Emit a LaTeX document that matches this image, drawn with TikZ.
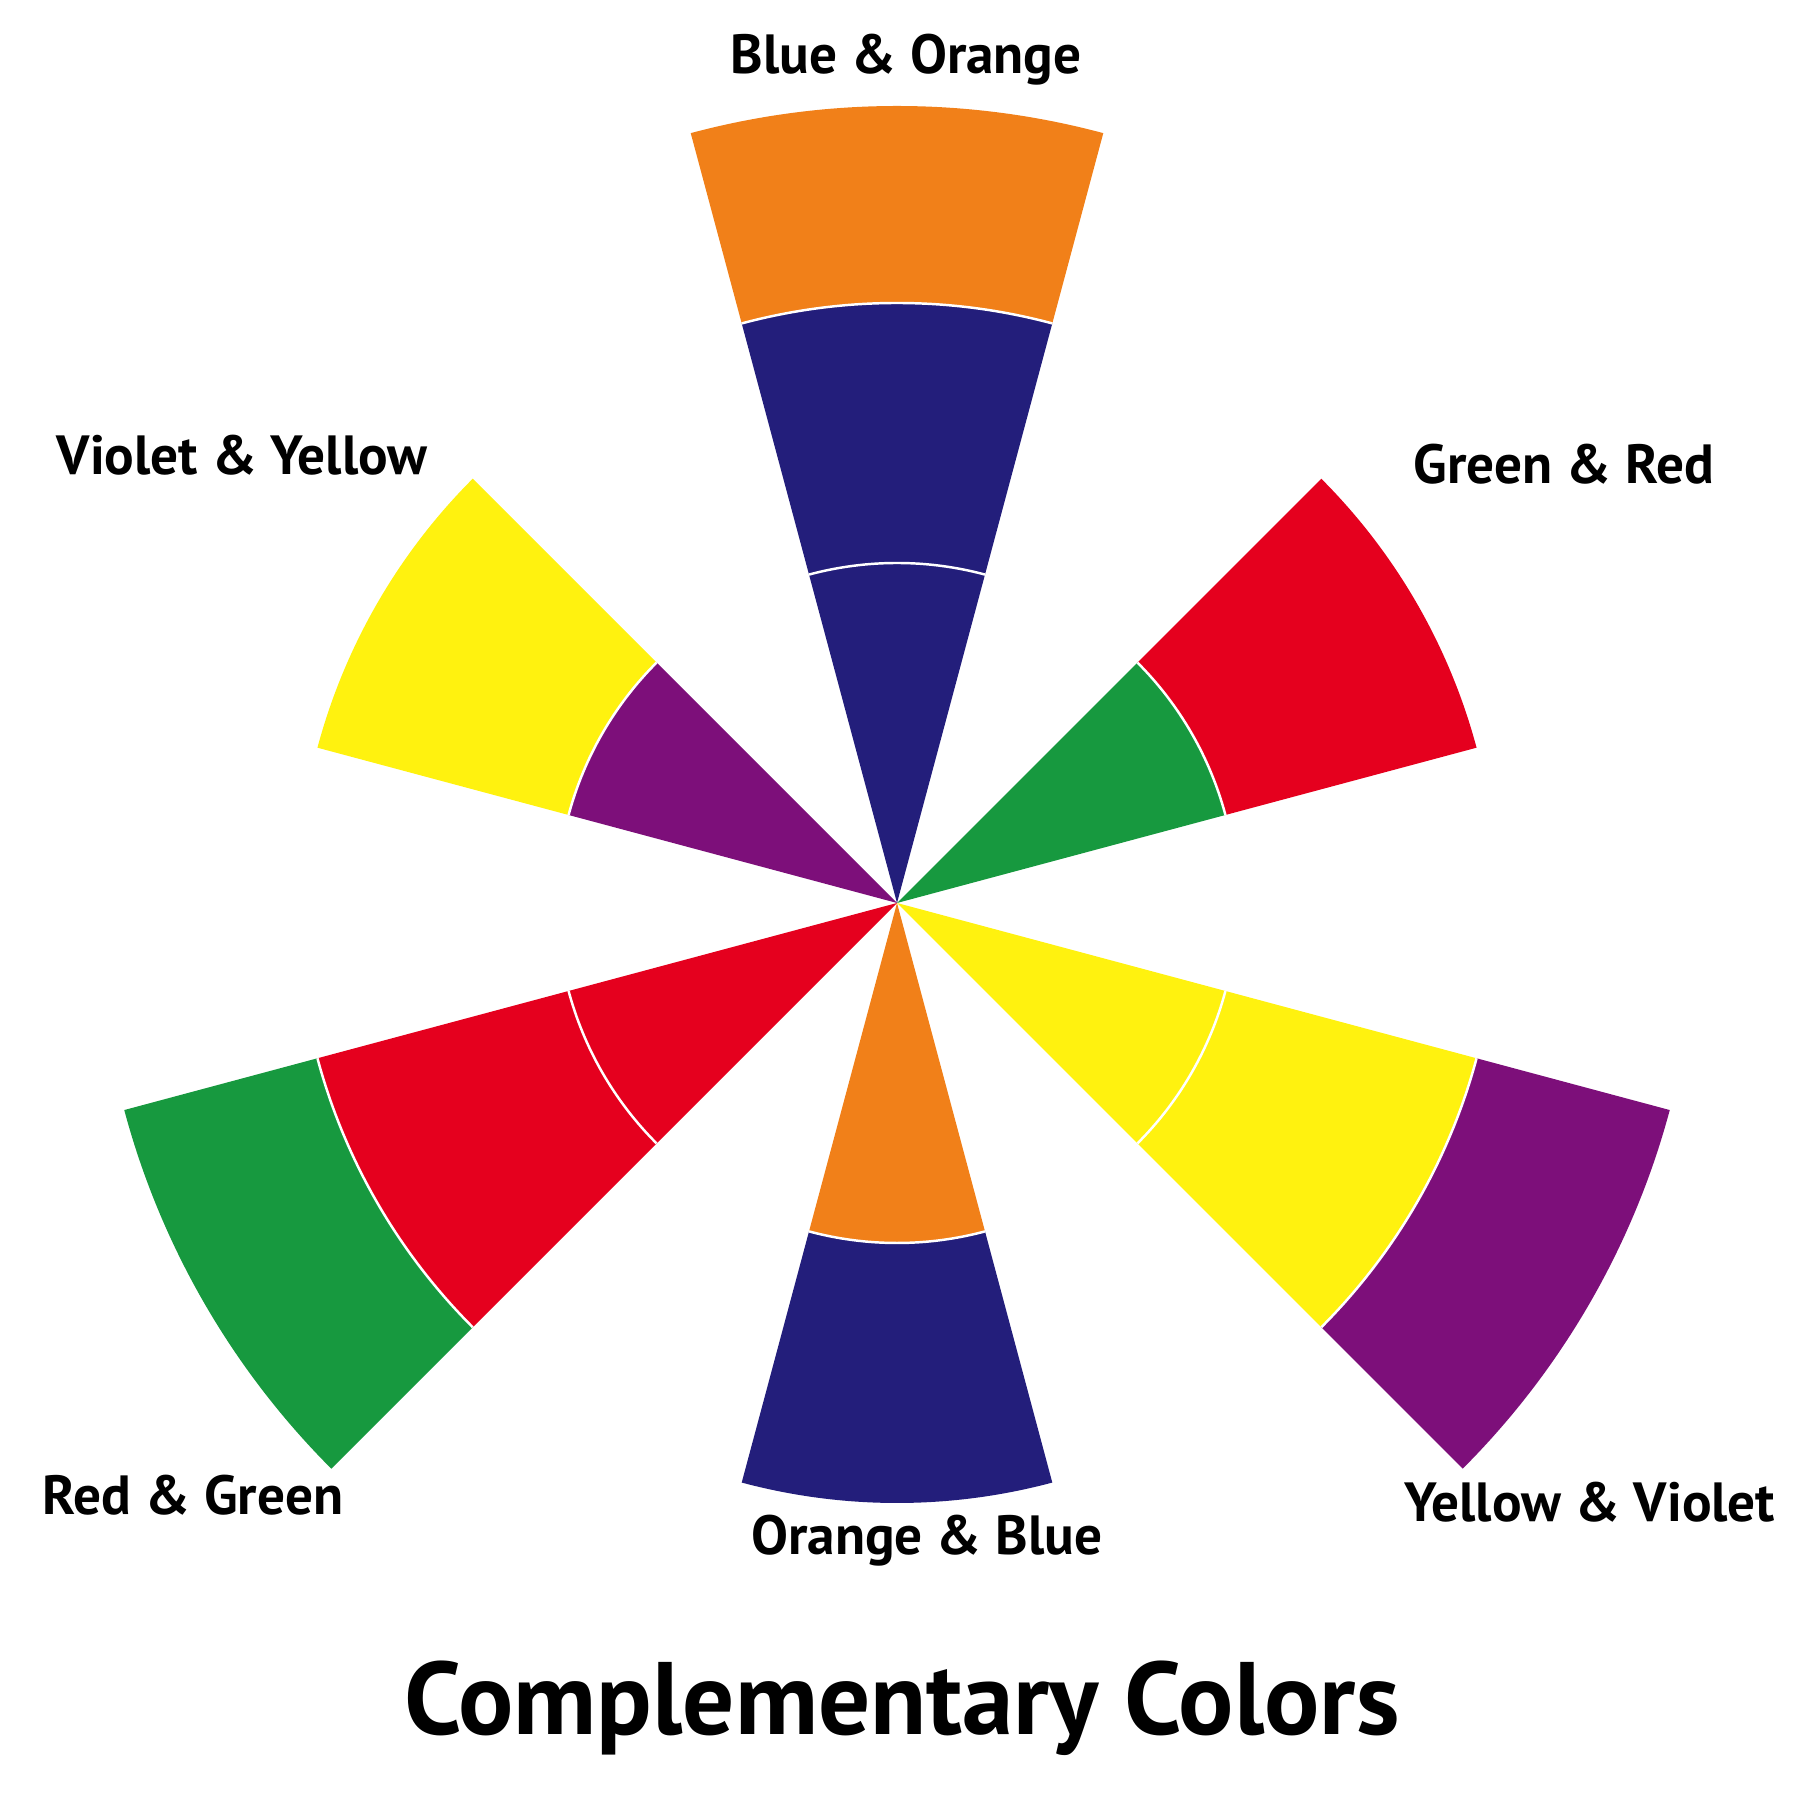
\documentclass[tikz,border=0pt]{standalone}
\usepackage{fontspec}
\setmainfont{PT Sans}
\definecolor{cOrange}{HTML}{F18019}
\definecolor{cBlue}{HTML}{231E7B}
\definecolor{cYellow}{HTML}{FFF20F}
\definecolor{cViolet}{HTML}{7D0F7A}
\definecolor{cGreen}{HTML}{17993F}
\definecolor{cRed}{HTML}{E5001E}
\newcommand\cwwedge[4]{\fill[#1] (0,0) -- (#2:#4) arc[start angle=#2,end angle=#3,radius=#4] -- cycle;}
\newcommand\cwring[5]{\fill[#1] (#2:#4) arc[start angle=#2,end angle=#3,radius=#4] -- (#3:#5) arc[start angle=#3,end angle=#2,radius=#5] -- cycle;}
\newcommand\cwline[3]{\draw[sepline] (#1:#3) arc[start angle=#1,end angle=#2,radius=#3];}
\begin{document}
\begin{tikzpicture}[x=0.01cm,y=0.01cm,
  sepline/.style={white,line width=0.7pt},
  lbl/.style={font=\fontsize{15.7pt}{17pt}\selectfont\bfseries,anchor=base,inner sep=0},
  ttl/.style={font=\fontsize{29.3pt}{31pt}\selectfont\bfseries,anchor=base,inner sep=0}]
\useasboundingbox (0,0) rectangle (1800,1800);
\coordinate (c) at (897,897);
\begin{scope}[shift={(c)}]
  % top: Blue & Orange
  \cwwedge{cBlue}{75}{105}{600}
  \cwring{cOrange}{75}{105}{600}{797}
  \cwline{75}{105}{340}
  \cwline{75}{105}{600}
  % upper right: Green & Red
  \cwwedge{cGreen}{15}{45}{340}
  \cwring{cRed}{15}{45}{340}{600}
  \cwline{15}{45}{340}
  % upper left: Violet & Yellow
  \cwwedge{cViolet}{135}{165}{340}
  \cwring{cYellow}{135}{165}{340}{600}
  \cwline{135}{165}{340}
  % lower left: Red & Green
  \cwwedge{cRed}{195}{225}{600}
  \cwring{cGreen}{195}{225}{600}{800}
  \cwline{195}{225}{340}
  \cwline{195}{225}{600}
  % bottom: Orange & Blue
  \cwwedge{cOrange}{255}{285}{340}
  \cwring{cBlue}{255}{285}{340}{600}
  \cwline{255}{285}{340}
  % lower right: Yellow & Violet
  \cwwedge{cYellow}{315}{345}{600}
  \cwring{cViolet}{315}{345}{600}{800}
  \cwline{315}{345}{340}
  \cwline{315}{345}{600}
\end{scope}
\node[lbl] (lbo) at (906,1726) {Blue \& Orange};
\node[lbl] (lvy) at (242,1325) {Violet \& Yellow};
\node[lbl] (lgr) at (1564,1316) {Green \& Red};
\node[lbl] (lrg) at (193,285) {Red \& Green};
\node[lbl] (lob) at (927,245) {Orange \& Blue};
\node[lbl] (lyv) at (1590,278) {Yellow \& Violet};
\node[ttl] (title) at (902,65) {Complementary Colors};
\end{tikzpicture}
\end{document}
